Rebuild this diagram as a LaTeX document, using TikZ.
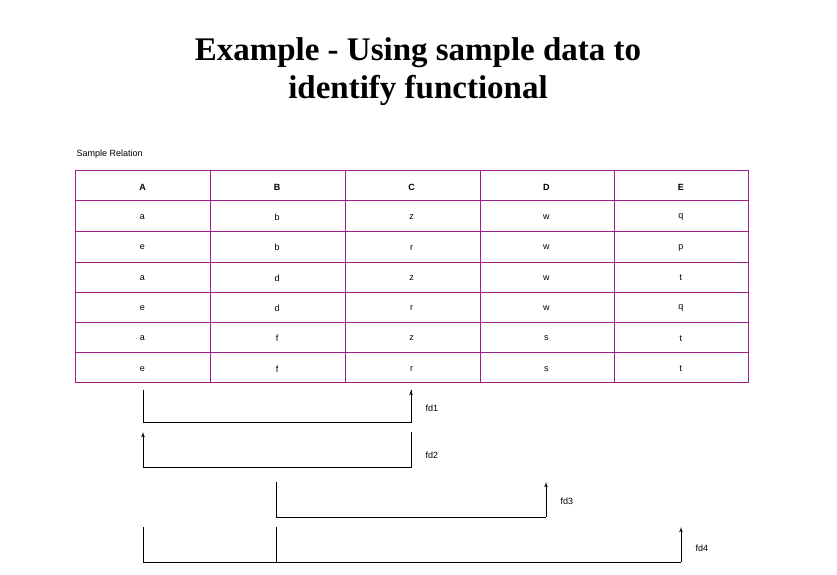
\documentclass[tikz,border=0pt]{standalone}
\usepackage{fontspec}
\setmainfont{Liberation Serif}
\setsansfont{Liberation Sans}
\usetikzlibrary{arrows,positioning,calc}
\definecolor{gridpurple}{RGB}{160,30,130}

\begin{document}
\begin{tikzpicture}[x=1pt, y=-1pt,
            cell/.style={font=\sffamily\fontsize{9}{10}\selectfont, inner sep=1pt},
            fdlabel/.style={font=\sffamily\fontsize{9}{10}\selectfont, anchor=west},
            fdline/.style={draw, thick},
            fdarrow/.style={draw, thick, -latex'}]
        \useasboundingbox (0,0) rectangle (837,574);
        \node[font=\bfseries\fontsize{33}{38}\selectfont, align=center] (title) at (418,72)
            {Example - Using sample data to\\identify functional};
        \node[font=\sffamily\fontsize{9}{10}\selectfont, anchor=west] (caption) at (73,154) {Sample Relation};
        % table grid
        \draw[gridpurple, thick] (75,170) rectangle (748,382);
        \foreach \x in {210,345,480,614} \draw[gridpurple, thick] (\x,170) -- (\x,382);
        \foreach \y in {200,231,262,292,322,352} \draw[gridpurple, thick] (75,\y) -- (748,\y);
        % header and rows
        \foreach \h [count=\c] in {A,B,C,D,E}
            \node[cell, font=\sffamily\bfseries\fontsize{9}{10}\selectfont] (h\c) at (142.5+134.6*\c-134.6,187) {\h};
        \foreach \row [count=\r] in {{a,b,z,w,q},{e,b,r,w,p},{a,d,z,w,t},{e,d,r,w,q},{a,f,z,s,t},{e,f,r,s,t}}
            \foreach \v [count=\c] in \row
                \node[cell] (r\r c\c) at (142.5+134.6*\c-134.6,187+30.3*\r) {\v};
        % functional dependencies
        \coordinate (a1) at (143,390); \coordinate (c1) at (411,390);
        \draw[fdline] (a1) |- (143,422) -| (c1);
        \draw[fdarrow] (411,422) -- (c1);
        \node[fdlabel] (fd1) at (422,408) {fd1};
        \coordinate (a2) at (143,432); \coordinate (c2) at (411,432);
        \draw[fdline] (c2) |- (143,467) -- (143,445);
        \draw[fdarrow] (143,467) -- (a2);
        \node[fdlabel] (fd2) at (422,455) {fd2};
        \coordinate (b3) at (276,482); \coordinate (d3) at (546,482);
        \draw[fdline] (b3) |- (546,517);
        \draw[fdarrow] (546,517) -- (d3);
        \node[fdlabel] (fd3) at (557,501) {fd3};
        \coordinate (a4) at (143,527); \coordinate (b4) at (276,527); \coordinate (e4) at (681,527);
        \draw[fdline] (a4) |- (681,562);
        \draw[fdline] (b4) -- (276,562);
        \draw[fdarrow] (681,562) -- (e4);
        \node[fdlabel] (fd4) at (692,548) {fd4};
\end{tikzpicture}
\end{document}
